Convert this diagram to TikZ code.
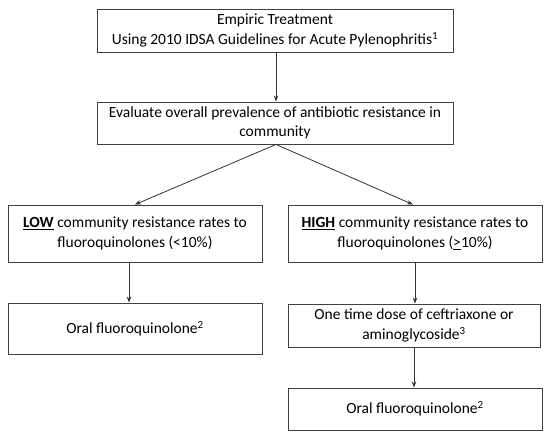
\documentclass[tikz,border=0pt]{standalone}
\usepackage{fontspec}
\setmainfont{Carlito}
\usetikzlibrary{arrows.meta}
\begin{document}
\begin{tikzpicture}[x=1pt,y=-1pt,
  box/.style={draw=black!75,line width=0.9pt,align=center,font=\fontsize{15.5}{19.5}\selectfont,inner sep=0pt},
  conn/.style={draw=black!80,line width=0.8pt,-{Stealth[length=6pt,width=4.5pt]}}]
\useasboundingbox (0,0) rectangle (550,438);
\node[box,minimum width=356pt,minimum height=43pt] (top) at (275,30.5) {Empiric Treatment\\Using 2010 IDSA Guidelines for Acute Pylenophritis\textsuperscript{1}};
\node[box,minimum width=356pt,minimum height=42pt] (eval) at (275,123) {Evaluate overall prevalence of antibiotic resistance in\\community};
\node[box,minimum width=254pt,minimum height=57pt] (low) at (135,233.5) {\underline{\textbf{LOW}} community resistance rates to\\fluoroquinolones (<10\%)};
\node[box,minimum width=254pt,minimum height=57pt] (high) at (415,233.5) {\underline{\textbf{HIGH}} community resistance rates to\\fluoroquinolones (\underline{>}10\%)};
\node[box,minimum width=254pt,minimum height=51pt] (oralL) at (135,328.5) {Oral fluoroquinolone\textsuperscript{2}};
\node[box,minimum width=252pt,minimum height=43pt] (dose) at (414,325.5) {One time dose of ceftriaxone or\\aminoglycoside\textsuperscript{3}};
\node[box,minimum width=254pt,minimum height=42pt] (oralR) at (415,409) {Oral fluoroquinolone\textsuperscript{2}};
\draw[conn] (top.south -| 276,0) -- (eval.north -| 276,0);
\draw[conn] (eval.south -| 276,0) -- (low.north -| 135,0);
\draw[conn] (eval.south -| 276,0) -- (high.north -| 413,0);
\draw[conn] (low.south -| 129,0) -- (oralL.north -| 129,0);
\draw[conn] (high.south -| 415,0) -- (dose.north -| 415,0);
\draw[conn] (dose.south -| 414,0) -- (oralR.north -| 414,0);
\end{tikzpicture}
\end{document}
